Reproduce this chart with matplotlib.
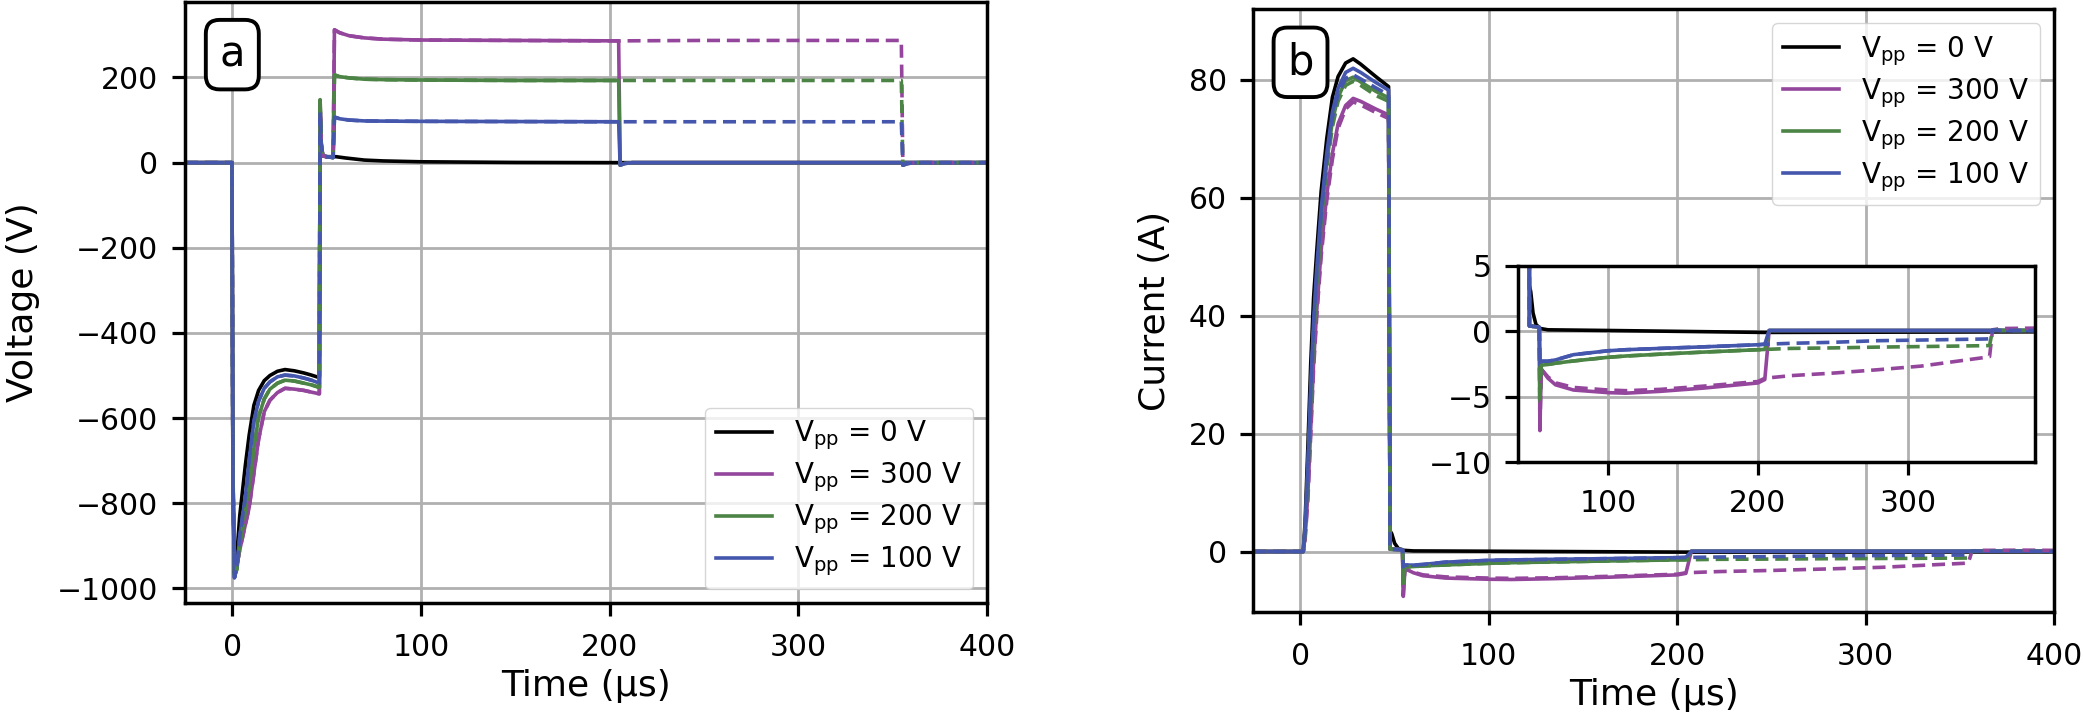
import numpy as np
import matplotlib
matplotlib.use("Agg")
import matplotlib.pyplot as plt

# ---------------- data : panel a (voltage, V) ----------------
t_neg_a = [-25, -0.1, 0.4, 1.2, 2.5, 4, 5.5, 7, 9, 11.5, 14, 17, 20, 24, 28, 33, 38, 42, 46.2]
v_neg_0 = [0, 0, -750, -965, -920, -830, -770, -710, -640, -570, -535, -512, -500, -490, -486, -489, -494, -499, -505]
v_neg_100 = [0, 0, -750, -975, -950, -880, -830, -785, -700, -608, -560, -530, -515, -503, -499, -501, -506, -511, -518]
v_neg_200 = [0, 0, -740, -970, -955, -900, -860, -820, -765, -672, -597, -555, -532, -518, -511, -513, -518, -522, -528]
v_neg_300 = [0, 0, -720, -950, -945, -910, -880, -850, -810, -730, -650, -585, -558, -540, -530, -532, -535, -539, -543]

t_spike_a = [46.6, 47.2, 48.0, 50.0, 53.5]
v_spike_0 = [125, 40, 16, 14, 14]
v_spike_100 = [118, 40, 16, 14, 12]
v_spike_200 = [148, 45, 16, 14, 12]
v_spike_300 = [135, 45, 16, 14, 12]

t_tail_a = [55, 60, 70, 80, 100, 150, 200, 400]
v_tail_0 = [14, 11, 6, 4, 2, 0.5, 0, 0]

t_on_a = [54.2, 57, 62, 70, 80, 100, 150, 204.8]
v_on_300 = [312, 305, 298, 293, 290, 288, 287, 286]
v_on_200 = [206, 202, 199, 196, 195, 194, 193, 193]
v_on_100 = [107, 103, 100, 98, 97.5, 97, 96.5, 96]

t_off_a = [205.6, 208, 212, 400]
v_off_a = [-6, -2, 0, 0]

t_ext_a = [250, 300, 354.6]
v_ext_300 = [287, 287, 287]
v_ext_200 = [193, 193, 193]
v_ext_100 = [96, 96, 96]

t_offd_a = [355.4, 358, 362, 400]

# ---------------- data : panel b (current, A) ----------------
t_pulse_b = [-25, 1.5, 2.5, 4, 5.5, 7, 8.7, 11, 14, 17, 20, 24, 28, 32, 40, 46.8]
i_pulse_0 = [0, 0, 5, 18, 32, 43, 51, 61, 70, 77, 80.5, 82.8, 83.5, 82.6, 80.5, 78.8]
i_pulse_300 = [0, 0, 2.5, 10, 21, 32, 41, 51, 60.5, 67.5, 72.5, 75.6, 76.8, 76.3, 75, 74]
i_pulse_300d = [0, 0, 2, 9, 20, 31, 40, 50, 59.5, 66.5, 71.7, 75, 76.2, 75.7, 74.4, 73.4]
i_pulse_200 = [0, 0, 3.5, 13.5, 26, 37, 46, 56, 66, 73, 77, 79.8, 80.4, 79.6, 78, 76.9]
i_pulse_200d = [0, 0, 3, 12.5, 25, 36, 45, 55, 65, 72, 76.3, 79, 79.7, 79, 77.3, 76.3]
i_pulse_100 = [0, 0, 4, 15, 28, 39, 48, 58, 67.5, 74.5, 78.5, 81.2, 81.9, 81.2, 79.5, 78.2]
i_pulse_100d = [0, 0, 3.5, 14, 27, 38, 47, 57, 66.5, 73.5, 77.5, 80.2, 80.8, 80.1, 78.6, 77.4]

t_fall_0 = [47.6, 48.5, 50, 52, 55, 60, 100, 205, 400]
i_fall_0 = [3.5, 3.0, 1.4, 0.5, 0.2, 0.1, 0.05, -0.1, -0.05]

t_after_b = [47.6, 54.2, 54.6, 55.5, 60, 65, 77, 100, 112, 135, 164, 200, 204.6]
i_after_100 = [0.4, 0.3, -2.6, -2.3, -2.3, -2.2, -1.8, -1.5, -1.42, -1.32, -1.2, -1.04, -1.0]
i_after_200 = [0.4, 0.3, -5.4, -2.6, -2.55, -2.45, -2.28, -2.0, -1.9, -1.76, -1.6, -1.42, -1.4]
i_after_300 = [0.4, 0.3, -7.6, -2.9, -3.6, -4.1, -4.5, -4.7, -4.74, -4.6, -4.35, -3.96, -3.7]
i_after_300d = [0.4, 0.3, -7.4, -2.9, -3.5, -3.95, -4.3, -4.5, -4.55, -4.45, -4.2, -3.85, -3.6]

t_off_b = [207.5, 400]
i_off_b = [0.05, 0.05]

t_ext_b = [222, 251, 280, 309, 352, 354.5]
i_ext_100 = [-0.93, -0.85, -0.73, -0.68, -0.6, -0.58]
i_ext_200 = [-1.32, -1.28, -1.22, -1.18, -1.11, -1.1]
i_ext_300 = [-3.4, -3.2, -2.95, -2.67, -2.0, -1.95]

t_offd_b = [356.5, 362, 385, 400]
i_offd_100 = [0.1, 0.05, 0.05, 0.0]
i_offd_200 = [0.1, 0.05, 0.05, 0.0]
i_offd_300 = [0.1, 0.2, 0.23, 0.2]

labels = ["V$_{\\rm pp}$ = 0 V", "V$_{\\rm pp}$ = 300 V", "V$_{\\rm pp}$ = 200 V", "V$_{\\rm pp}$ = 100 V"]
c_black, c_purple, c_green, c_blue = "black", "#94469c", "#4b8445", "#4557ad"

# ---------------- assemble series ----------------
def cat(*parts):
    return np.concatenate([np.asarray(p, dtype=float) for p in parts])

ta_black = cat(t_neg_a, t_spike_a, t_tail_a)
va_black = cat(v_neg_0, v_spike_0, v_tail_0)

def series_a(vneg, vspike, von, vext):
    ts = cat(t_neg_a, t_spike_a, t_on_a, t_off_a)
    vs = cat(vneg, vspike, von, v_off_a)
    td = cat(t_neg_a, t_spike_a, t_on_a, t_ext_a, t_offd_a)
    vd = cat(vneg, vspike, von, vext, v_off_a)
    return ts, vs, td, vd

A300 = series_a(v_neg_300, v_spike_300, v_on_300, v_ext_300)
A200 = series_a(v_neg_200, v_spike_200, v_on_200, v_ext_200)
A100 = series_a(v_neg_100, v_spike_100, v_on_100, v_ext_100)

tb_black = cat(t_pulse_b, t_fall_0)
ib_black = cat(i_pulse_0, i_fall_0)

def series_b(ip, ipd, ia, iad, iext, ioffd):
    ts = cat(t_pulse_b, t_after_b, t_off_b)
    vs = cat(ip, ia, i_off_b)
    td = cat(t_pulse_b, t_after_b, t_ext_b, t_offd_b)
    vd = cat(ipd, iad, iext, ioffd)
    return ts, vs, td, vd

B300 = series_b(i_pulse_300, i_pulse_300d, i_after_300, i_after_300d, i_ext_300, i_offd_300)
B200 = series_b(i_pulse_200, i_pulse_200d, i_after_200, i_after_200, i_ext_200, i_offd_200)
B100 = series_b(i_pulse_100, i_pulse_100d, i_after_100, i_after_100, i_ext_100, i_offd_100)

# ---------------- styling ----------------
plt.rcParams["font.family"] = ["DejaVu Sans"]
plt.rcParams["mathtext.default"] = "regular"
LW = 2.6
DASH = (0, (3.6, 1.9))
TICK_FS = 21.5
LABEL_FS = 26
LEG_FS = 20

W, H = 2083, 722
fig = plt.figure(figsize=(W / 100, H / 100), dpi=100)

def style_axes(ax, fs=TICK_FS):
    for s in ax.spines.values():
        s.set_linewidth(2.5)
    ax.tick_params(axis="both", which="major", length=9.6, width=2.3, labelsize=fs)
    ax.tick_params(axis="x", pad=12)
    ax.tick_params(axis="y", pad=9.5)
    ax.grid(True, color="#b0b0b0", linewidth=2.0)
    ax.set_axisbelow(True)

def draw(ax, black, groups):
    ax.plot(black[0], black[1], color=c_black, lw=LW, label=labels[0])
    for (ts, vs, td, vd), col, lab in groups:
        ax.plot(ts, vs, color=col, lw=LW, label=lab)
    for (ts, vs, td, vd), col, lab in groups:
        ax.plot(td, vd, color=col, lw=LW, linestyle=DASH)

def tag(ax, letter):
    ax.text(0.059, 0.912, letter, transform=ax.transAxes, fontsize=30, ha="center", va="center",
            bbox=dict(boxstyle="round,pad=0.33", fc="white", ec="black", lw=2.8), zorder=10)

# ---- panel a ----
axa = fig.add_axes([185 / W, (H - 603.3) / H, 802 / W, 601.6 / H])
style_axes(axa)
draw(axa, (ta_black, va_black), [(A300, c_purple, labels[1]), (A200, c_green, labels[2]), (A100, c_blue, labels[3])])
axa.set_xlim(-25, 400)
axa.set_ylim(-1035, 378)
axa.set_xticks([0, 100, 200, 300, 400])
axa.set_yticks([-1000, -800, -600, -400, -200, 0, 200])
axa.set_xlabel("Time (µs)", fontsize=LABEL_FS, labelpad=5)
axa.set_ylabel("Voltage (V)", fontsize=LABEL_FS, labelpad=12)
axa.legend(loc="lower right", fontsize=LEG_FS, framealpha=0.8, labelspacing=0.3)
tag(axa, "a")

# ---- panel b ----
axb = fig.add_axes([1253.3 / W, (H - 611.7) / H, 800.7 / W, 602.4 / H])
style_axes(axb)
draw(axb, (tb_black, ib_black), [(B300, c_purple, labels[1]), (B200, c_green, labels[2]), (B100, c_blue, labels[3])])
axb.set_xlim(-25, 400)
axb.set_ylim(-10.2, 91.9)
axb.set_xticks([0, 100, 200, 300, 400])
axb.set_yticks([0, 20, 40, 60, 80])
axb.set_xlabel("Time (µs)", fontsize=LABEL_FS, labelpad=5)
axb.set_ylabel("Current (A)", fontsize=LABEL_FS, labelpad=12)
axb.legend(loc="upper right", fontsize=LEG_FS, framealpha=0.8, labelspacing=0.3)
tag(axb, "b")

# ---- inset ----
axi = fig.add_axes([1518 / W, (H - 462) / H, 517.3 / W, 196.3 / H])
style_axes(axi)
axi.tick_params(axis="x", pad=9.5)
axi.set_facecolor("white")
draw(axi, (tb_black, ib_black), [(B300, c_purple, labels[1]), (B200, c_green, labels[2]), (B100, c_blue, labels[3])])
axi.set_xlim(40, 385)
axi.set_ylim(-10, 5)
axi.set_xticks([100, 200, 300])
axi.set_yticks([-10, -5, 0, 5])

fig.savefig("out.png", dpi=100)
